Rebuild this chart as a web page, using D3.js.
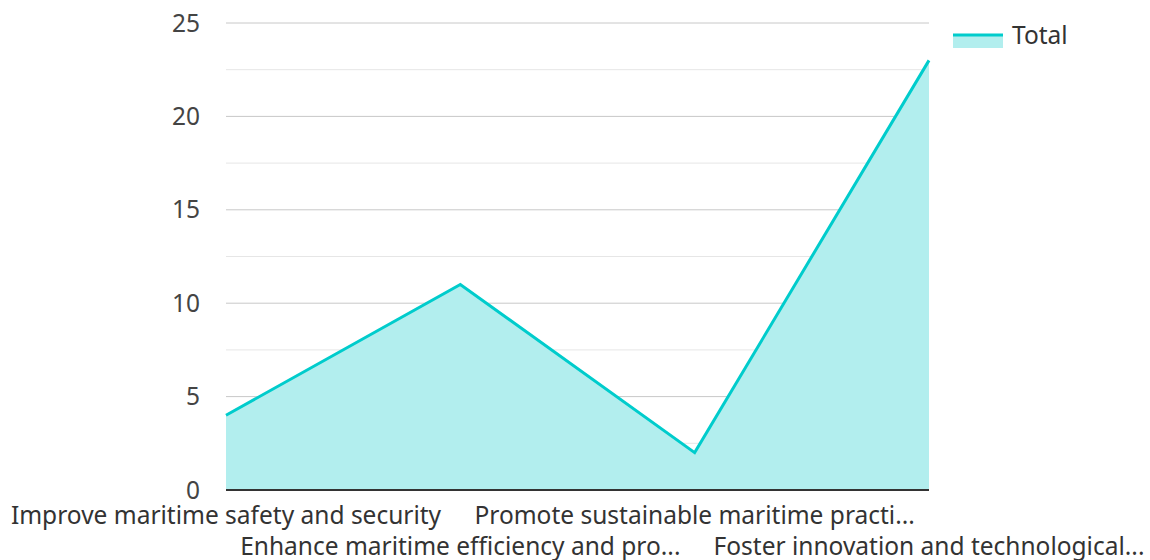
<!DOCTYPE html>
<html>
<head>
<meta charset="utf-8">
<script src="https://cdn.jsdelivr.net/npm/d3@7"></script>
<style>
  body { margin: 0; background: #fff; }
  svg text { font-family: "Noto Sans", sans-serif; }
</style>
</head>
<body>
<svg id="chart" width="1150" height="560"></svg>
<script>
// Chart data
const categories = [
  "Improve maritime safety and security",
  "Enhance maritime efficiency and pro...",
  "Promote sustainable maritime practi...",
  "Foster innovation and technological..."
];
const totals = [4, 11, 2, 23];
const yTicks = [0, 5, 10, 15, 20, 25];
const minorTicks = [2.5, 7.5, 12.5, 17.5, 22.5];
const seriesName = "Total";

const margin = { top: 23, right: 221, bottom: 70, left: 226 };
const width = 1150 - margin.left - margin.right;
const height = 560 - margin.top - margin.bottom;

const svg = d3.select("#chart");
const g = svg.append("g").attr("transform", `translate(${margin.left},${margin.top})`);

const x = d3.scalePoint().domain(categories).range([0, width]);
const y = d3.scaleLinear().domain([0, 25]).range([height, 0]);

// Grid lines
g.selectAll(".minor").data(minorTicks).enter().append("line")
  .attr("x1", 0).attr("x2", width)
  .attr("y1", d => y(d)).attr("y2", d => y(d))
  .attr("stroke", "#e6e6e6").attr("stroke-width", 1);

g.selectAll(".major").data(yTicks.filter(d => d > 0)).enter().append("line")
  .attr("x1", 0).attr("x2", width)
  .attr("y1", d => y(d)).attr("y2", d => y(d))
  .attr("stroke", "#c8c8c8").attr("stroke-width", 1);

// Area + line
const pts = categories.map((c, i) => ({ c, v: totals[i] }));
g.append("path").datum(pts)
  .attr("fill", "#b2eeee")
  .attr("d", d3.area().x(d => x(d.c)).y0(y(0)).y1(d => y(d.v)));

g.append("path").datum(pts)
  .attr("fill", "none")
  .attr("stroke", "#00cccc")
  .attr("stroke-width", 3)
  .attr("d", d3.line().x(d => x(d.c)).y(d => y(d.v)));

// Baseline
g.append("line")
  .attr("x1", 0).attr("x2", width)
  .attr("y1", y(0)).attr("y2", y(0))
  .attr("stroke", "#333").attr("stroke-width", 2);

// Y tick labels
g.selectAll(".ylab").data(yTicks).enter().append("text")
  .attr("x", -26).attr("y", d => y(d))
  .attr("dy", "0.35em")
  .attr("text-anchor", "end")
  .attr("font-size", 24.5).attr("fill", "#444")
  .text(d => d);

// X tick labels, staggered
g.selectAll(".xlab").data(categories).enter().append("text")
  .attr("x", d => x(d))
  .attr("y", (d, i) => height + (i % 2 === 0 ? 34 : 65))
  .attr("text-anchor", "middle")
  .attr("font-size", 24.5).attr("fill", "#333")
  .text(d => d);

// Legend
const lg = svg.append("g").attr("transform", "translate(953,35)");
lg.append("rect").attr("x", 0).attr("y", 0).attr("width", 50).attr("height", 13).attr("fill", "#b2eeee");
lg.append("line").attr("x1", 0).attr("x2", 50).attr("y1", 0).attr("y2", 0)
  .attr("stroke", "#00cccc").attr("stroke-width", 3);
lg.append("text").attr("x", 59).attr("y", 0).attr("dy", "0.35em")
  .attr("font-size", 24.5).attr("fill", "#333").text(seriesName);
</script>
</body>
</html>
